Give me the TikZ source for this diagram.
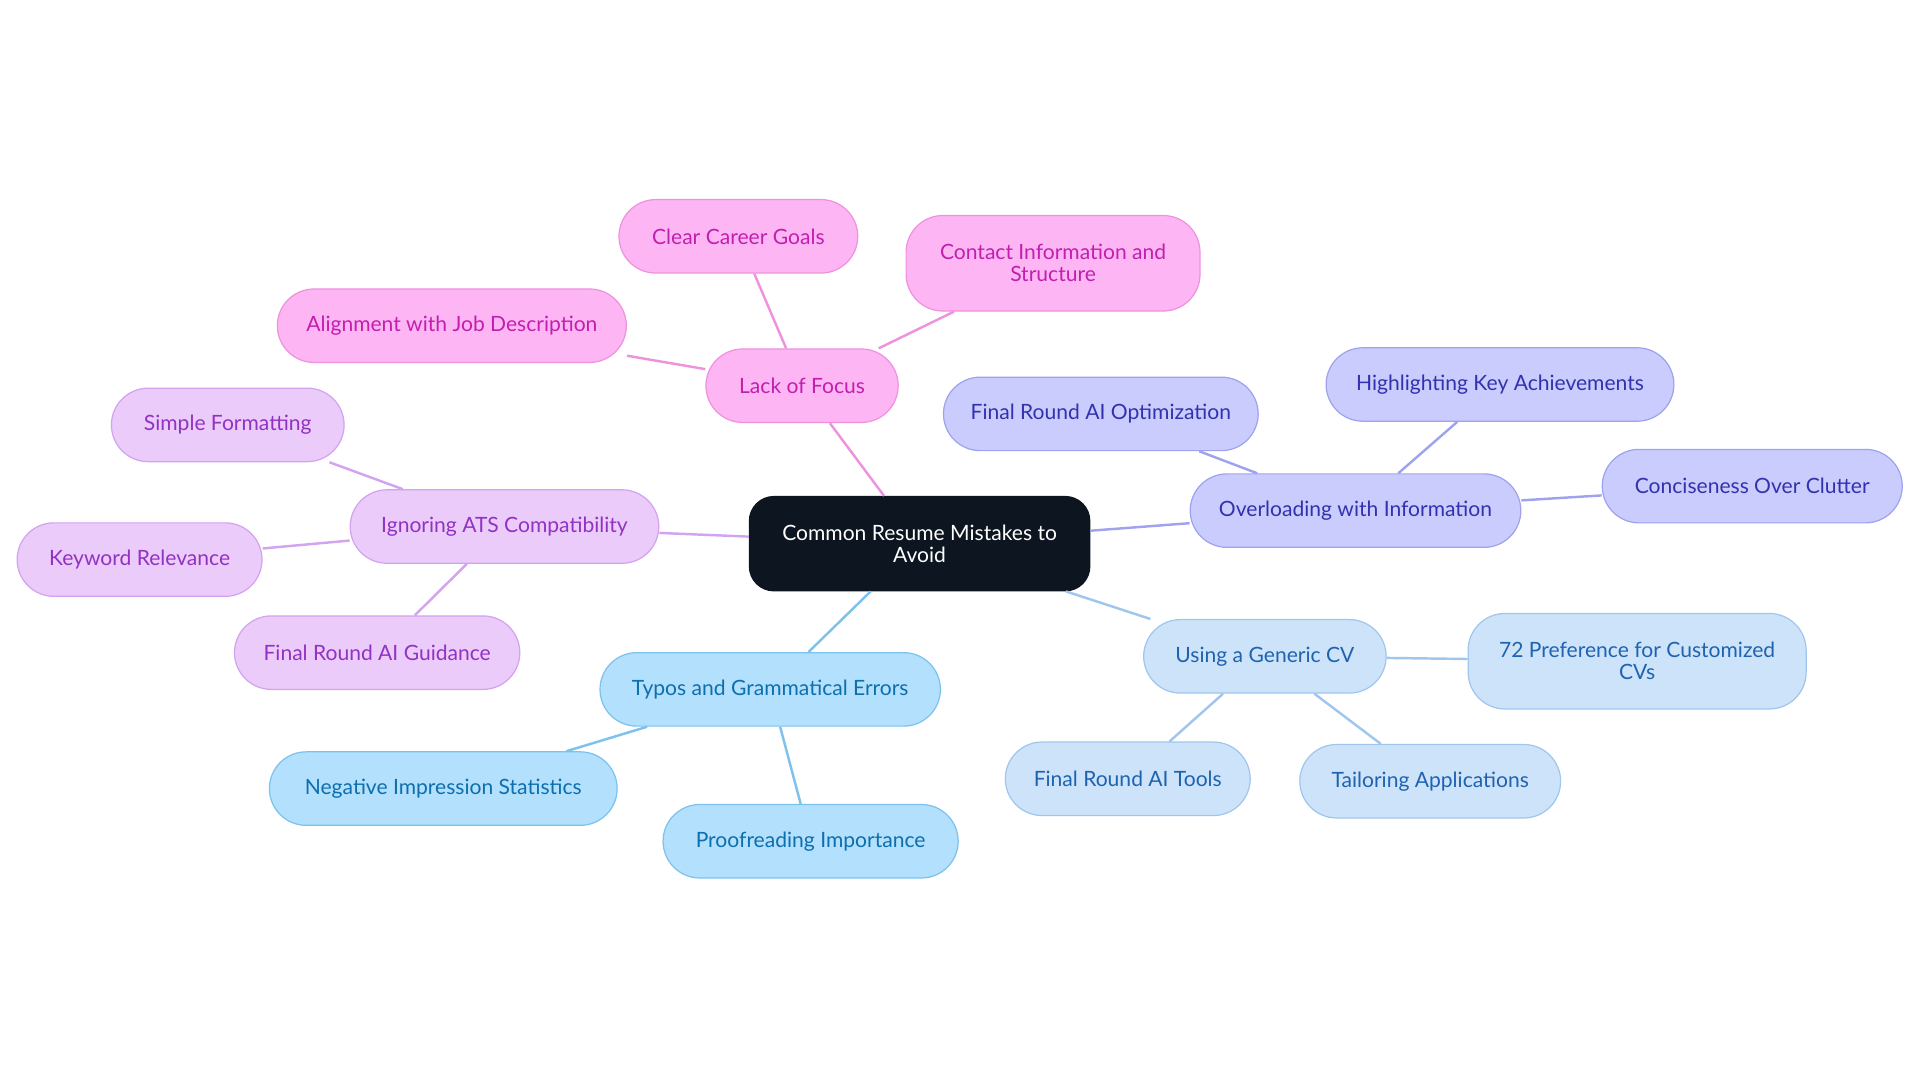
\documentclass[tikz,border=0pt]{standalone}
\usepackage{fontspec}
\setmainfont{Lato}
\definecolor{cfill}{HTML}{0D1520}
\definecolor{pkf}{HTML}{FDB6F3}\definecolor{pkd}{HTML}{EE92DE}\definecolor{pkt}{HTML}{C21FB0}
\definecolor{puf}{HTML}{EBCBFA}\definecolor{pud}{HTML}{D3A3EF}\definecolor{put}{HTML}{9232C2}
\definecolor{vif}{HTML}{C9CCFC}\definecolor{vid}{HTML}{9FA3EE}\definecolor{vit}{HTML}{3232AE}
\definecolor{lbf}{HTML}{CDE3FA}\definecolor{lbd}{HTML}{A0C6EE}\definecolor{lbt}{HTML}{1F63B0}
\definecolor{skf}{HTML}{B3E0FC}\definecolor{skd}{HTML}{7CC2EC}\definecolor{skt}{HTML}{0E6FAE}
\tikzset{
 box/.style={rounded corners=15pt,minimum height=30pt,inner sep=0pt,align=center,font=\fontsize{8.6}{9}\selectfont,line width=0.5pt},
 pk/.style={box,fill=pkf,draw=pkd,text=pkt},
 pu/.style={box,fill=puf,draw=pud,text=put},
 vi/.style={box,fill=vif,draw=vid,text=vit},
 lb/.style={box,fill=lbf,draw=lbd,text=lbt},
 sk/.style={box,fill=skf,draw=skd,text=skt},
 e/.style={line width=1pt}
}
\begin{document}
\begin{tikzpicture}[x=0.5pt,y=-0.5pt]
\useasboundingbox (0,0) rectangle (1568,884);
\node[box,fill=cfill,text=white,draw=cfill,minimum width=139pt,minimum height=38.5pt,rounded corners=10pt] (c) at (751,444) {Common Resume Mistakes to\\Avoid};
\node[pk,minimum width=78.5pt] (lf) at (655,315) {Lack of Focus};
\node[pk,minimum width=97.5pt] (cg) at (603,193) {Clear Career Goals};
\node[pk,minimum width=120pt,minimum height=39pt] (ci) at (860,215) {Contact Information and\\Structure};
\node[pk,minimum width=142.5pt] (aj) at (369,266) {Alignment with Job Description};
\node[pu,minimum width=126pt] (ats) at (412,430) {Ignoring ATS Compatibility};
\node[pu,minimum width=95pt] (sf) at (186,347) {Simple Formatting};
\node[pu,minimum width=100pt] (kr) at (114,457) {Keyword Relevance};
\node[pu,minimum width=116.5pt] (fg) at (308,533) {Final Round AI Guidance};
\node[sk,minimum width=139pt] (ty) at (629,563) {Typos and Grammatical Errors};
\node[sk,minimum width=142pt] (ni) at (362,644) {Negative Impression Statistics};
\node[sk,minimum width=120.5pt] (pi) at (662,687) {Proofreading Importance};
\node[lb,minimum width=99pt] (gc) at (1033,536) {Using a Generic CV};
\node[lb,minimum width=138pt,minimum height=39pt] (pc) at (1337,540) {72 Preference for Customized\\CVs};
\node[lb,minimum width=100pt] (ft) at (921,636) {Final Round AI Tools};
\node[lb,minimum width=106.5pt] (ta) at (1168,638) {Tailoring Applications};
\node[vi,minimum width=135pt] (ov) at (1107,417) {Overloading with Information};
\node[vi,minimum width=128.5pt] (fo) at (899,338) {Final Round AI Optimization};
\node[vi,minimum width=142pt] (hk) at (1225,314) {Highlighting Key Achievements};
\node[vi,minimum width=122.5pt] (co) at (1431,397) {Conciseness Over Clutter};
\begin{scope}[on background layer/.style={}]
\end{scope}
\draw[e,pkd] (c) -- (lf); \draw[e,pkd] (lf) -- (cg); \draw[e,pkd] (lf) -- (ci); \draw[e,pkd] (lf) -- (aj);
\draw[e,pud] (c) -- (ats); \draw[e,pud] (ats) -- (sf); \draw[e,pud] (ats) -- (kr); \draw[e,pud] (ats) -- (fg);
\draw[e,skd] (c) -- (ty); \draw[e,skd] (ty) -- (ni); \draw[e,skd] (ty) -- (pi);
\draw[e,lbd] (c) -- (gc); \draw[e,lbd] (gc) -- (pc); \draw[e,lbd] (gc) -- (ft); \draw[e,lbd] (gc) -- (ta);
\draw[e,vid] (c) -- (ov); \draw[e,vid] (ov) -- (fo); \draw[e,vid] (ov) -- (hk); \draw[e,vid] (ov) -- (co);
\end{tikzpicture}
\end{document}
